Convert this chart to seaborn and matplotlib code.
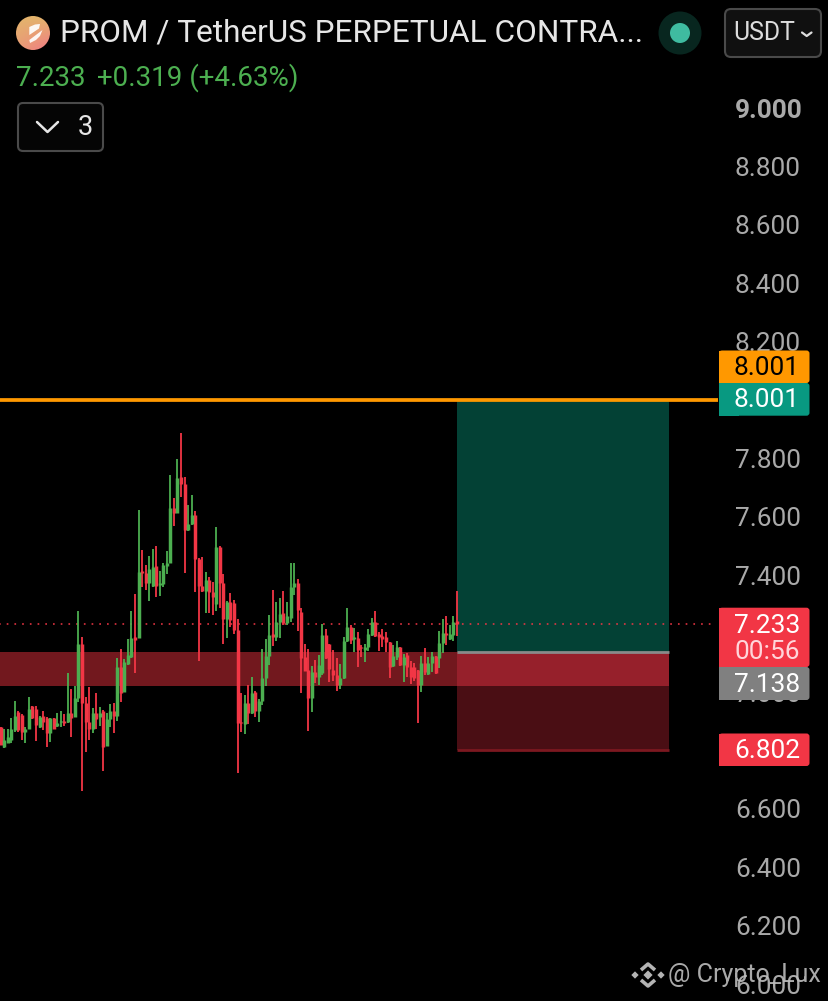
import matplotlib
matplotlib.use('Agg')
import matplotlib.pyplot as plt
from matplotlib.patches import Circle, FancyBboxPatch, Polygon, Rectangle
import numpy as np
import pandas as pd
import seaborn as sns

# OHLC, one entry per candle, left to right
opens = [
    6.879,6.813,6.826,6.836,6.870,6.933,6.921,6.864,6.875,6.953,
    6.941,6.881,6.918,6.912,6.859,6.910,6.883,6.896,6.901,6.896,
    6.929,6.916,6.978,7.164,6.961,6.898,6.875,6.927,6.913,6.936,
    6.815,6.908,6.935,6.918,7.084,7.001,7.095,7.121,7.187,7.186,
    7.415,7.409,7.372,7.364,7.431,7.366,7.370,7.433,7.443,7.629,
    7.614,7.737,7.712,7.555,7.575,7.606,7.455,7.364,7.346,7.383,
    7.344,7.301,7.498,7.372,7.250,7.309,7.304,7.212,6.896,6.890,
    6.961,6.927,7.001,6.935,6.969,7.047,7.123,7.199,7.189,7.241,
    7.269,7.235,7.252,7.361,7.374,7.275,7.119,7.075,6.981,7.067,
    7.052,7.064,7.195,7.164,7.075,7.058,7.024,7.047,7.175,7.221,
    7.183,7.184,7.155,7.144,7.153,7.195,7.241,7.197,7.192,7.189,
    7.172,7.089,7.121,7.155,7.092,7.127,7.087,7.084,7.075,7.024,
    7.100,7.062,7.100,7.124,7.115,7.167,7.203,7.180,7.195,7.243,
]
closes = [
    6.819,6.836,6.847,6.872,6.918,6.870,6.864,6.875,6.942,6.910,
    6.887,6.915,6.898,6.859,6.910,6.875,6.895,6.901,6.895,6.929,
    6.912,6.978,7.164,6.961,6.898,6.875,6.927,6.908,6.929,6.813,
    6.908,6.935,6.918,7.084,6.998,7.104,7.127,7.184,7.178,7.412,
    7.409,7.372,7.421,7.429,7.364,7.372,7.435,7.443,7.629,7.614,
    7.732,7.712,7.555,7.575,7.606,7.454,7.364,7.346,7.383,7.344,
    7.326,7.495,7.372,7.250,7.309,7.247,7.212,6.895,6.893,6.961,
    6.927,6.995,6.936,6.969,7.047,7.123,7.195,7.189,7.241,7.267,
    7.235,7.260,7.361,7.374,7.281,7.115,7.073,6.978,7.067,7.052,
    7.092,7.195,7.115,7.078,7.058,7.024,7.047,7.175,7.221,7.178,
    7.187,7.144,7.149,7.155,7.199,7.241,7.192,7.189,7.181,7.172,
    7.087,7.123,7.155,7.092,7.121,7.087,7.052,7.047,7.024,7.100,
    7.070,7.100,7.123,7.064,7.169,7.201,7.195,7.197,7.241,7.233,
]
highs = [
    6.879,6.875,6.874,6.912,6.970,6.935,6.925,6.881,6.984,6.953,
    6.952,6.918,6.936,6.913,6.912,6.910,6.927,6.936,6.923,7.064,
    7.009,7.020,7.278,7.187,6.984,7.018,6.944,6.995,6.947,6.938,
    6.927,6.959,6.961,7.118,7.146,7.112,7.180,7.277,7.334,7.625,
    7.488,7.434,7.466,7.490,7.500,7.414,7.441,7.484,7.743,7.663,
    7.798,7.888,7.737,7.640,7.675,7.621,7.458,7.463,7.410,7.393,
    7.378,7.566,7.501,7.403,7.312,7.338,7.315,7.249,6.996,6.990,
    7.024,7.050,7.004,6.975,7.147,7.180,7.264,7.349,7.309,7.321,
    7.346,7.307,7.443,7.441,7.386,7.286,7.164,7.146,7.089,7.110,
    7.127,7.232,7.215,7.164,7.144,7.115,7.096,7.189,7.286,7.229,
    7.218,7.207,7.161,7.164,7.216,7.255,7.277,7.207,7.215,7.207,
    7.172,7.161,7.175,7.155,7.130,7.132,7.107,7.098,7.075,7.124,
    7.149,7.119,7.138,7.124,7.210,7.250,7.260,7.229,7.260,7.346,
]
lows = [
    6.819,6.809,6.826,6.824,6.864,6.864,6.836,6.824,6.872,6.908,
    6.832,6.878,6.870,6.813,6.830,6.873,6.881,6.881,6.885,6.895,
    6.847,6.916,6.967,6.661,6.796,6.836,6.859,6.875,6.883,6.731,
    6.815,6.879,6.861,6.901,6.967,7.001,7.093,7.118,7.066,7.186,
    7.361,7.349,7.313,7.361,7.324,7.330,7.361,7.404,7.441,7.570,
    7.612,7.669,7.409,7.552,7.572,7.344,7.107,7.344,7.272,7.272,
    7.264,7.278,7.286,7.163,7.184,7.224,7.197,6.724,6.864,6.856,
    6.890,6.925,6.916,6.897,6.955,7.020,7.092,7.157,7.175,7.184,
    7.229,7.229,7.241,7.332,7.210,6.996,7.073,6.866,6.933,7.032,
    7.024,7.058,7.112,7.035,7.039,7.004,7.009,7.043,7.172,7.164,
    7.138,7.087,7.121,7.104,7.141,7.192,7.187,7.141,7.155,7.138,
    7.047,7.087,7.110,7.090,7.033,7.052,7.027,7.038,6.895,7.001,
    7.058,7.058,7.070,7.062,7.083,7.132,7.161,7.178,7.176,7.192,
]

tick_prices = [9.0, 8.8, 8.6, 8.4, 8.2, 8.0, 7.8, 7.6, 7.4, 7.2, 7.0, 6.8, 6.6, 6.4, 6.2, 6.0]
tick_labels = ['9.000', '8.800', '8.600', '8.400', '8.200', '8.000', '7.800', '7.600',
               '7.400', '7.200', '7.000', '6.800', '6.600', '6.400', '6.200', '6.000']

last_price = 7.233
target_price = 8.001
entry_price = 7.138
stop_price = 6.802
zone_top = 7.137
zone_bottom = 7.021

UP = '#4caf50'
DOWN = '#f23645'
FONT = 'Roboto'
LABEL_SIZE = 18.9

sns.set_style('dark', {'axes.facecolor': 'black', 'figure.facecolor': 'black'})
plt.rcParams['font.family'] = [FONT, 'DejaVu Sans']
plt.rcParams['lines.solid_capstyle'] = 'butt'

fig = plt.figure(figsize=(8.29, 10.01), dpi=100, facecolor='black')
ax = fig.add_axes([0, 0, 1, 1])
ax.set_facecolor('black')

# long form table, two rows per candle, one table for the wicks and one for the bodies
n = len(opens)
direction = ['up' if c >= o else 'down' for o, c in zip(opens, closes)]
wicks = pd.DataFrame({
    'candle': list(range(n)) * 2,
    'price': lows + highs,
    'direction': direction * 2,
})
bodies = pd.DataFrame({
    'candle': list(range(n)) * 2,
    'price': opens + closes,
    'direction': direction * 2,
})
wicks['bar'] = wicks['candle']
bodies['bar'] = bodies['candle']

# position boxes start on the last candle and run 60 bars on
box_start = n - 1
box_end = box_start + 60

ax.fill_between([box_start, box_end], entry_price, target_price, color='#034135', lw=0, zorder=1)
ax.fill_between([box_start, box_end], stop_price, entry_price, color='#4a0e14', lw=0, zorder=1)
ax.fill_between([-1, box_start], zone_bottom, zone_top, color='#72181e', lw=0, zorder=1)
ax.fill_between([box_start, box_end], zone_bottom, zone_top, color='#96202b', lw=0, zorder=1)
ax.plot([box_start, box_end], [entry_price, entry_price], color='#8a8a8a', lw=2, zorder=1.5)
ax.plot([box_start, box_end], [stop_price, stop_price], color='#7c1820', lw=2, zorder=1.5)

palette = {'up': UP, 'down': DOWN}
sns.lineplot(data=wicks, x='candle', y='price', hue='direction', units='bar', estimator=None,
             palette=palette, linewidth=1.3, legend=False, ax=ax, zorder=3)
sns.lineplot(data=bodies, x='candle', y='price', hue='direction', units='bar', estimator=None,
             palette=palette, linewidth=2.5, legend=False, ax=ax, zorder=3)

ax.plot([-1, 203], [target_price, target_price], color='#ff9800', lw=2.7, zorder=4)
ax.plot([-1, 201], [last_price, last_price], color=DOWN, lw=1.1, ls=(0, (1.1, 3.95)), zorder=2)

ax.set_xlim(-0.19, 234.3)
ax.set_ylim(5.9418, 9.3699)
ax.set_xlabel('')
ax.set_ylabel('')
ax.set_xticks([])
ax.set_yticks(tick_prices)
ax.set_yticklabels(tick_labels)
ax.yaxis.tick_right()
ax.tick_params(axis='y', length=0, pad=-67.7, labelsize=LABEL_SIZE, labelcolor='#a9a9a9')
ax.get_yticklabels()[0].set_fontweight('bold')
ax.grid(False)
for side in ax.spines.values():
    side.set_visible(False)

# screen furniture on top of the chart, laid out in pixels
ui = fig.add_axes([0, 0, 1, 1])
ui.set_xlim(0, 829)
ui.set_ylim(1001, 0)
ui.axis('off')
ui.patch.set_alpha(0)


def badge(y0, y1, color, text, text_color='white', second=None):
    ui.add_patch(FancyBboxPatch((719, y0), 90.5, y1 - y0, boxstyle='round,pad=0,rounding_size=3',
                                fc=color, ec='none', zorder=5))
    ui.add_patch(Rectangle((719, y0), 20, y1 - y0, fc=color, ec='none', zorder=5))
    if second:
        ui.text(767, y0 + 18, text, color=text_color, fontsize=LABEL_SIZE, ha='center', va='center', zorder=6)
        ui.text(767, y0 + 44.5, second, color='#ffd5da', fontsize=LABEL_SIZE, ha='center', va='center', zorder=6)
    else:
        ui.text(767, (y0 + y1) / 2 + 1, text, color=text_color, fontsize=LABEL_SIZE, ha='center', va='center', zorder=6)


badge(350.5, 383, '#ff9800', '8.001', 'black')
badge(383, 415.7, '#089981', '8.001')
badge(607.7, 667, DOWN, '7.233', second='00:56')
badge(667, 700, '#808080', '7.138')
badge(733.5, 766, DOWN, '6.802')

# coin logo
disc = Circle((33, 33), 17, transform=ui.transData)
shade = np.linspace(0, 1, 64).reshape(-1, 1) * np.linspace(0.4, 1, 64)
logo = ui.imshow(shade[::-1], extent=(16, 50, 50, 16), cmap=sns.blend_palette(['#e3b56c', '#f27a85'], as_cmap=True),
                 aspect='auto', zorder=5, origin='lower')
logo.set_clip_path(disc)
ui.set_xlim(0, 829)
ui.set_ylim(1001, 0)
ui.add_patch(Polygon([(29.3, 27), (35, 24.5), (40, 24), (39, 28.5), (29.3, 35)], fc='white', alpha=0.92, ec='none', zorder=6))
ui.add_patch(Polygon([(29.3, 40), (42.5, 30), (40, 36), (36, 40), (30, 43)], fc='white', alpha=0.92, ec='none', zorder=6))

ui.text(60, 33.5, 'PROM / TetherUS PERPETUAL CONTRA...', color='#e6e6e6', fontsize=22.7, ha='left', va='center')
ui.text(16, 78, '7.233', color=UP, fontsize=20, ha='left', va='center')
ui.text(97, 78, '+0.319 (+4.63%)', color=UP, fontsize=20, ha='left', va='center')

# market status dot
ui.add_patch(Circle((680, 33), 21.5, fc='#08261f', ec='none'))
ui.add_patch(Circle((680, 33), 10, fc='#3fbba0', ec='none'))

# USDT button
ui.add_patch(FancyBboxPatch((725, 9), 96, 48, boxstyle='round,pad=0,rounding_size=6',
                            fc='#101010', ec='#4a4a4a', lw=1.5))
ui.text(733, 33, 'USDT', color='#dddddd', fontsize=17.8, ha='left', va='center')
ui.plot([802, 806.7, 811.5], [32.5, 36, 32.5], color='#dddddd', lw=1.6, solid_capstyle='round')

# collapsed indicators button
ui.add_patch(FancyBboxPatch((18, 103), 85, 48, boxstyle='round,pad=0,rounding_size=5',
                            fc='#050505', ec='#4a4a4a', lw=1.5))
ui.plot([37, 47.5, 58], [122, 132, 122], color='#e6e6e6', lw=1.8, solid_capstyle='round')
ui.text(85, 127.5, '3', color='#e6e6e6', fontsize=19.5, ha='center', va='center')

# exchange watermark
mark = '#b4b4b4'
ui.plot([641, 648, 655], [970, 964, 970], color=mark, lw=2.6)
ui.plot([641, 648, 655], [980, 986, 980], color=mark, lw=2.6)
ui.scatter([635, 648, 661], [975, 975, 975], s=[14, 22, 14], marker='D', color=mark, lw=0)
ui.text(668, 975, '@ Crypto_Lux', color='#bdbdbd', fontsize=18, ha='left', va='center', alpha=0.9)

fig.savefig('out.png', dpi=100, facecolor='black')
